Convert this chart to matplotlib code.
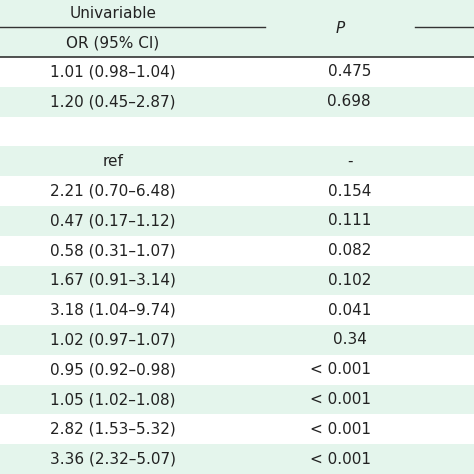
import matplotlib
matplotlib.use("Agg")
import matplotlib.pyplot as plt
from matplotlib.patches import Rectangle

or_ci = ["1.01 (0.98\u20131.04)", "1.20 (0.45\u20132.87)", "", "ref",
         "2.21 (0.70\u20136.48)", "0.47 (0.17\u20131.12)", "0.58 (0.31\u20131.07)",
         "1.67 (0.91\u20133.14)", "3.18 (1.04\u20139.74)", "1.02 (0.97\u20131.07)",
         "0.95 (0.92\u20130.98)", "1.05 (1.02\u20131.08)", "2.82 (1.53\u20135.32)",
         "3.36 (2.32\u20135.07)"]
p_vals = ["0.475", "0.698", "", "-", "0.154", "0.111", "0.082", "0.102", "0.041",
          "0.34", "< 0.001", "< 0.001", "< 0.001", "< 0.001"]

green = "#e4f5ec"
txt = "#222222"
W, H = 474, 474
head = 57
rh = (H - head) / len(or_ci)

fig = plt.figure(figsize=(4.74, 4.74), dpi=100)
ax = fig.add_axes([0, 0, 1, 1])
ax.set_xlim(0, W)
ax.set_ylim(H, 0)
ax.axis("off")

ax.add_patch(Rectangle((0, 0), W, head, color=green, lw=0))
ax.plot([0, 265], [27, 27], color="#333333", lw=1)
ax.plot([415, W], [27, 27], color="#333333", lw=1)
ax.plot([0, W], [head, head], color="#333333", lw=1.2)
ax.text(113, 13, "Univariable", ha="center", va="center", fontsize=11, color=txt)
ax.text(113, 43, "OR (95% CI)", ha="center", va="center", fontsize=11, color=txt)
ax.text(340, 28, "P", ha="center", va="center", fontsize=11, color=txt, style="italic")

for i, (o, p) in enumerate(zip(or_ci, p_vals)):
    y0 = head + i * rh
    if i % 2 == 1:
        ax.add_patch(Rectangle((0, y0), W, rh, color=green, lw=0))
    yc = y0 + rh / 2
    ax.text(113, yc, o, ha="center", va="center", fontsize=11, color=txt)
    if p in ("-", "0.34"):
        ax.text(350, yc, p, ha="center", va="center", fontsize=11, color=txt)
    else:
        ax.text(371, yc, p, ha="right", va="center", fontsize=11, color=txt)

fig.savefig("out.png", dpi=100)
